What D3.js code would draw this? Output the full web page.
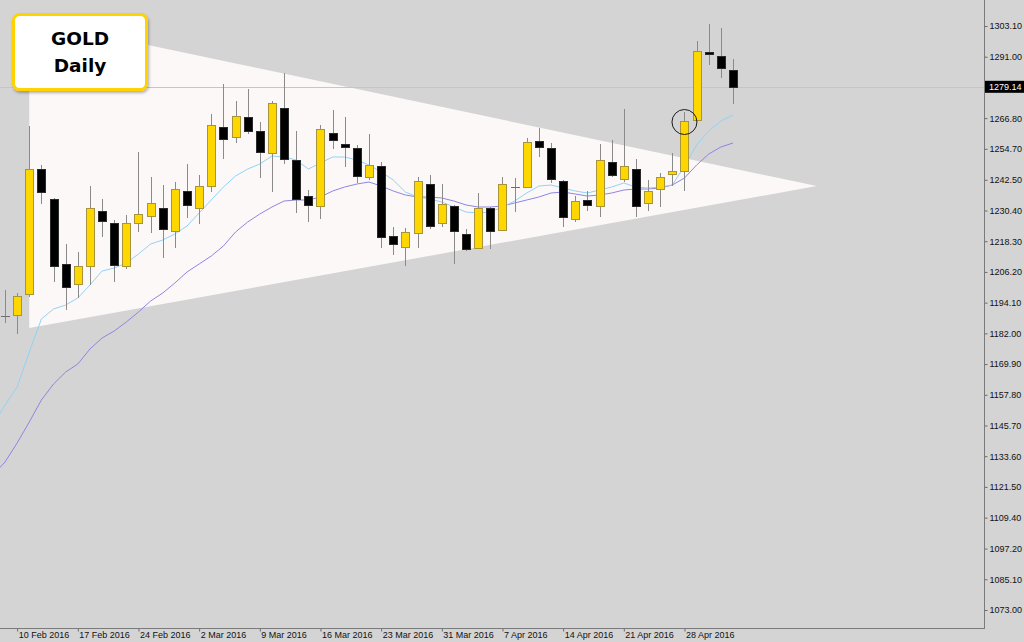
<!DOCTYPE html>
<html>
<head>
<meta charset="utf-8">
<script src="https://cdn.jsdelivr.net/npm/d3@7"></script>
<style>
  html, body { margin: 0; padding: 0; background: #d4d4d4; }
  svg { display: block; }
</style>
</head>
<body>
<svg id="chart" width="1024" height="642"></svg>
<script>
// ---------- DATA ----------
const dates = [
  "2016-02-09","2016-02-10","2016-02-11","2016-02-12",
  "2016-02-15","2016-02-16","2016-02-17","2016-02-18","2016-02-19",
  "2016-02-22","2016-02-23","2016-02-24","2016-02-25","2016-02-26",
  "2016-02-29","2016-03-01","2016-03-02","2016-03-03","2016-03-04",
  "2016-03-07","2016-03-08","2016-03-09","2016-03-10","2016-03-11",
  "2016-03-14","2016-03-15","2016-03-16","2016-03-17","2016-03-18",
  "2016-03-21","2016-03-22","2016-03-23","2016-03-24",
  "2016-03-28","2016-03-29","2016-03-30","2016-03-31","2016-04-01",
  "2016-04-04","2016-04-05","2016-04-06","2016-04-07","2016-04-08",
  "2016-04-11","2016-04-12","2016-04-13","2016-04-14","2016-04-15",
  "2016-04-18","2016-04-19","2016-04-20","2016-04-21","2016-04-22",
  "2016-04-25","2016-04-26","2016-04-27","2016-04-28","2016-04-29",
  "2016-05-02","2016-05-03","2016-05-04"
];
const open = [
  1188.83,1189.23,1197.50,1246.75,1234.93,1209.32,1201.44,1208.53,1230.20,1225.48,
  1208.53,1225.48,1228.23,1231.39,1222.32,1238.08,1231.39,1240.05,1263.30,1259.36,
  1267.24,1261.72,1253.06,1270.79,1250.30,1236.11,1232.17,1260.94,1256.60,1255.03,
  1243.60,1247.93,1220.35,1216.02,1221.54,1240.84,1225.48,1232.17,1221.14,1215.63,
  1231.39,1222.72,1239.66,1239.66,1257.78,1255.03,1242.02,1227.05,1234.54,1232.17,
  1249.51,1242.81,1246.75,1233.36,1238.87,1244.78,1245.96,1266.06,1292.85,1291.28,
  1285.76
];
const high = [
  1199.08,1197.89,1263.69,1248.33,1235.33,1217.20,1214.05,1240.05,1234.93,1226.66,
  1228.63,1253.45,1243.60,1240.45,1241.63,1248.72,1244.39,1268.42,1280.24,1273.54,
  1278.27,1265.27,1273.54,1284.58,1261.72,1238.48,1264.09,1270.00,1267.24,1256.21,
  1260.54,1249.51,1223.90,1223.51,1243.60,1244.39,1240.84,1232.57,1223.11,1237.30,
  1231.78,1243.60,1243.21,1258.97,1262.91,1257.00,1242.42,1236.11,1238.08,1256.60,
  1258.18,1270.39,1250.69,1242.42,1245.18,1253.06,1269.21,1297.19,1303.88,1302.31,
  1290.09
];
const low = [
  1186.07,1181.74,1196.32,1232.96,1202.23,1191.20,1195.93,1201.05,1219.96,1202.23,
  1207.35,1221.93,1221.54,1211.69,1215.63,1227.45,1225.08,1237.69,1250.69,1257.00,
  1260.54,1243.21,1237.69,1248.72,1229.42,1225.87,1227.05,1254.63,1247.54,1241.24,
  1242.42,1215.63,1212.87,1208.53,1215.63,1223.11,1223.90,1209.32,1214.44,1215.23,
  1215.23,1222.32,1229.81,1239.27,1251.48,1241.24,1223.90,1225.87,1230.20,1227.84,
  1243.60,1241.63,1227.84,1230.20,1231.78,1240.05,1238.08,1266.06,1287.73,1282.61,
  1272.36
];
const close = [
  1188.83,1196.71,1246.75,1237.69,1208.53,1200.26,1208.53,1231.39,1226.26,1208.93,
  1225.48,1229.02,1233.36,1223.11,1238.87,1232.57,1240.05,1264.09,1258.57,1267.63,
  1261.72,1253.45,1272.76,1250.69,1234.93,1232.57,1262.51,1258.18,1255.42,1243.99,
  1248.33,1219.96,1217.20,1221.93,1242.02,1224.29,1232.96,1222.32,1215.23,1231.39,
  1222.32,1240.84,1239.66,1257.39,1255.42,1242.81,1227.84,1234.14,1232.57,1250.30,
  1244.39,1247.93,1232.17,1238.08,1243.60,1245.96,1265.66,1293.25,1292.06,1286.55,
  1279.14
];
// moving averages; first value belongs to the bar just before the first visible one
const maFast = [1145.90,
  1153.77,1160.86,1174.65,1187.65,1191.59,1193.17,1195.93,1201.05,1206.56,1207.75,
  1209.72,1213.26,1217.20,1218.78,1221.14,1224.29,1229.42,1234.54,1239.66,1243.99,
  1246.75,1248.72,1251.87,1251.48,1250.30,1246.75,1249.12,1251.48,1251.48,1250.30,
  1248.33,1245.57,1242.42,1237.69,1235.72,1234.93,1233.75,1231.78,1229.81,1229.42,
  1229.81,1231.78,1234.14,1237.30,1240.05,1240.45,1239.27,1238.08,1237.30,1238.48,
  1239.66,1241.24,1239.66,1239.27,1239.66,1240.45,1247.93,1256.21,1261.72,1265.66,
  1268.03
];
const maSlow = [1126.20,
  1131.31,1138.79,1147.07,1155.74,1162.04,1166.77,1169.92,1175.83,1180.16,1182.92,
  1186.47,1190.41,1194.74,1197.89,1201.84,1206.17,1209.32,1212.47,1216.41,1221.93,
  1225.87,1229.02,1231.78,1234.14,1234.54,1234.54,1235.72,1238.08,1239.66,1240.84,
  1241.63,1240.05,1238.08,1236.51,1235.72,1235.72,1235.33,1234.14,1232.57,1231.78,
  1231.78,1232.17,1233.36,1234.54,1235.72,1237.30,1237.69,1236.90,1236.11,1236.51,
  1237.30,1238.48,1238.87,1238.87,1239.27,1240.45,1243.21,1248.33,1252.66,1255.42,
  1257.00
];
const yTicks = [1303.10,1291.00,1266.80,1254.70,1242.50,1230.40,1218.30,1206.20,1194.10,
  1182.00,1169.90,1157.80,1145.70,1133.60,1121.50,1109.40,1097.20,1085.10,1073.00];
const tickDates = ["2016-02-10","2016-02-17","2016-02-24","2016-03-02","2016-03-09","2016-03-16",
  "2016-03-23","2016-03-31","2016-04-07","2016-04-14","2016-04-21","2016-04-28"];
const tickLabels = ["10 Feb 2016","17 Feb 2016","24 Feb 2016","2 Mar 2016","9 Mar 2016","16 Mar 2016",
  "23 Mar 2016","31 Mar 2016","7 Apr 2016","14 Apr 2016","21 Apr 2016","28 Apr 2016"];
const lastPrice = 1279.14;
// triangle drawing object: [bar index, price]
const trianglePts = [[2, 1305.5], [2, 1184.1], [66.9, 1240.05]];
// circle marker: [bar index, price]
const circleMark = [56, 1265.27];
const titleLines = ["GOLD", "Daily"];

// ---------- LAYOUT ----------
const W = 1024, H = 642;
const plotRight = 984, plotBottom = 628;
const svg = d3.select("#chart");

const x = d3.scaleLinear().domain([0, dates.length - 1]).range([5, 733]);
const y = d3.scaleLinear().domain([1303.10, 1073.00]).range([26, 610]);

svg.append("rect").attr("width", W).attr("height", H).attr("fill", "#d4d4d4");

const defs = svg.append("defs");
defs.append("clipPath").attr("id", "plotclip")
  .append("rect").attr("x", 0).attr("y", 0).attr("width", plotRight).attr("height", plotBottom);
const f = defs.append("filter").attr("id", "shadow").attr("x", "-10%").attr("y", "-10%").attr("width", "130%").attr("height", "140%");
f.append("feDropShadow").attr("dx", 1).attr("dy", 2).attr("stdDeviation", 1.5)
  .attr("flood-color", "#000").attr("flood-opacity", 0.3);

const plot = svg.append("g").attr("clip-path", "url(#plotclip)");

// triangle
plot.append("polygon")
  .attr("points", trianglePts.map(p => [x(p[0]), y(p[1])].join(",")).join(" "))
  .attr("fill", "#fdf8f8");

// current price line
plot.append("line")
  .attr("x1", 0).attr("x2", plotRight)
  .attr("y1", Math.round(y(lastPrice)) + 0.5).attr("y2", Math.round(y(lastPrice)) + 0.5)
  .attr("stroke", "#c9c5c5").attr("stroke-width", 1);

// moving averages (index offset by one for the leading off-screen value)
const line = d3.line().x((d, i) => x(i - 1)).y(d => y(d));
plot.append("path").datum(maSlow).attr("d", line)
  .attr("fill", "none").attr("stroke", "#8d86e2").attr("stroke-width", 1);
plot.append("path").datum(maFast).attr("d", line)
  .attr("fill", "none").attr("stroke", "#8fd3f7").attr("stroke-width", 1);

// candles
const candles = plot.append("g");
dates.forEach((d, i) => {
  const cx = Math.round(x(i)) + 0.5;
  const o = open[i], c = close[i];
  candles.append("line")
    .attr("x1", cx).attr("x2", cx)
    .attr("y1", y(high[i])).attr("y2", y(low[i]))
    .attr("stroke", "#8a8a8a").attr("stroke-width", 1);
  if (Math.abs(o - c) < 0.01) {
    candles.append("line")
      .attr("x1", cx - 4.5).attr("x2", cx + 4.5)
      .attr("y1", Math.round(y(o)) + 0.5).attr("y2", Math.round(y(o)) + 0.5)
      .attr("stroke", "#6e6e6e").attr("stroke-width", 1);
    return;
  }
  const bull = c > o;
  const top = Math.round(y(Math.max(o, c)));
  const bot = Math.round(y(Math.min(o, c)));
  candles.append("rect")
    .attr("x", cx - 4).attr("width", 8)
    .attr("y", top + 0.5).attr("height", Math.max(1, bot - top))
    .attr("fill", bull ? "#ffd700" : "#000000")
    .attr("stroke", bull ? "#a8943a" : "#2a2a2a").attr("stroke-width", 1);
});

// circle marker
plot.append("circle")
  .attr("cx", x(circleMark[0])).attr("cy", y(circleMark[1])).attr("r", 12.5)
  .attr("fill", "none").attr("stroke", "#1a1a1a").attr("stroke-width", 1);

// ---------- AXES ----------
const yAxis = d3.axisRight(y).tickValues(yTicks).tickFormat(d3.format(".2f"))
  .tickSize(3).tickSizeOuter(0).tickPadding(2);
const gy = svg.append("g").attr("transform", `translate(${plotRight + 0.5},0)`).call(yAxis);
gy.select(".domain").remove();
gy.selectAll(".tick line").attr("stroke", "#6a6a6a");
gy.selectAll(".tick text").attr("fill", "#111").attr("font-family", "Liberation Sans, Arial, sans-serif")
  .attr("font-size", "9px");

const xAxis = d3.axisBottom(x)
  .tickValues(tickDates.map(t => dates.indexOf(t)))
  .tickFormat((d, i) => tickLabels[i])
  .tickSize(3).tickSizeOuter(0).tickPadding(2);
const gx = svg.append("g").attr("transform", `translate(0,${plotBottom + 0.5})`).call(xAxis);
gx.select(".domain").remove();
gx.selectAll(".tick line").attr("stroke", "#6a6a6a");
gx.selectAll(".tick text").attr("text-anchor", "start").attr("dx", "1px").attr("dy", "0.5em")
  .attr("fill", "#111").attr("font-family", "Liberation Sans, Arial, sans-serif").attr("font-size", "9px");

// frame
svg.append("line").attr("x1", plotRight + 0.5).attr("x2", plotRight + 0.5).attr("y1", 0).attr("y2", plotBottom + 1)
  .attr("stroke", "#7a7a7a");
svg.append("line").attr("x1", 0).attr("x2", plotRight + 1).attr("y1", plotBottom + 0.5).attr("y2", plotBottom + 0.5)
  .attr("stroke", "#7a7a7a");

// last price box
const ly = y(lastPrice);
svg.append("rect").attr("x", plotRight + 1).attr("y", ly - 6).attr("width", W - plotRight - 1).attr("height", 12)
  .attr("fill", "#000");
svg.append("text").attr("x", plotRight + 5).attr("y", ly).attr("dy", "0.35em")
  .attr("fill", "#fff").attr("font-family", "Liberation Sans, Arial, sans-serif").attr("font-size", "9px")
  .text(d3.format(".2f")(lastPrice));

// ---------- TITLE BOX ----------
const tb = svg.append("g");
tb.append("rect").attr("x", 13.5).attr("y", 14.5).attr("width", 133).attr("height", 75)
  .attr("rx", 6).attr("fill", "#ffffff").attr("stroke", "#ffd200").attr("stroke-width", 3)
  .attr("filter", "url(#shadow)");
tb.selectAll("text.title").data(titleLines).join("text")
  .attr("class", "title")
  .attr("x", 80).attr("y", (d, i) => 45 + i * 27)
  .attr("text-anchor", "middle")
  .attr("font-family", "DejaVu Sans, sans-serif").attr("font-weight", "bold").attr("font-size", "18.5px")
  .attr("fill", "#000").text(d => d);
</script>
</body>
</html>
